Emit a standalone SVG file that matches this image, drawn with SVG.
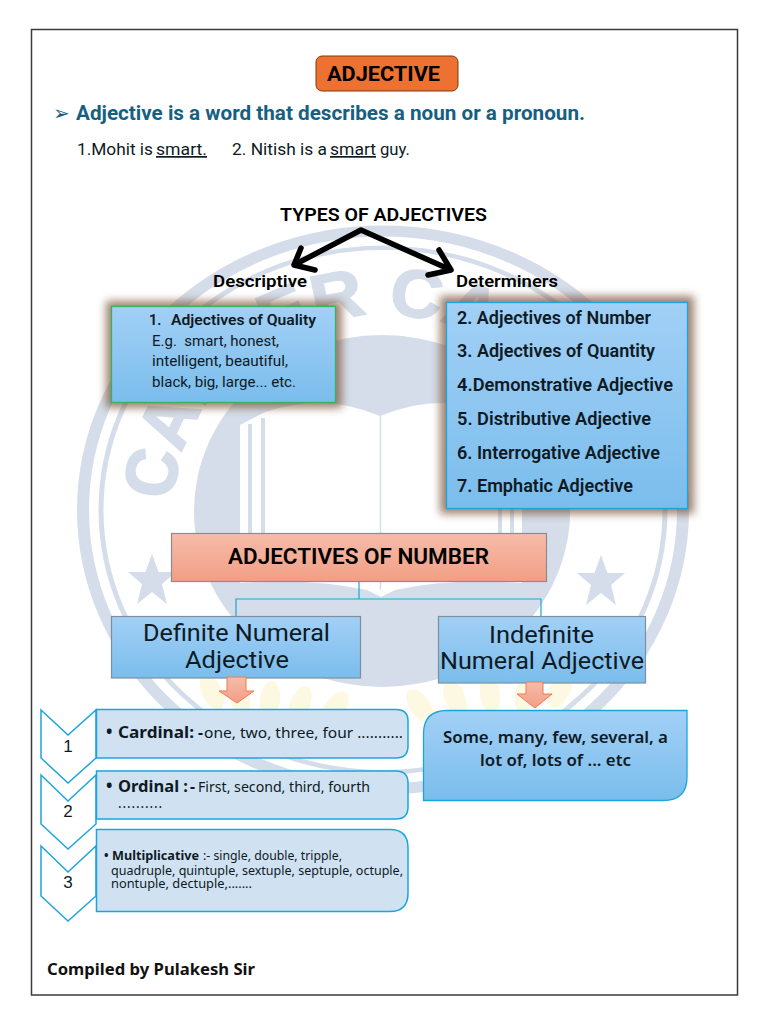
<svg xmlns="http://www.w3.org/2000/svg" width="768" height="1024" viewBox="0 0 768 1024">
<style>
text{font-family:Roboto,"Noto Sans","Liberation Sans",sans-serif;fill:#0e1a24}
.n{font-family:"Noto Sans","Liberation Sans",sans-serif}
.b{font-weight:700}.s{font-weight:600}
.wm{fill:#d4dde9}.ring{fill:none;stroke:#d4dde9}
.leaf{fill:#fdf8e2}
.blue{fill:url(#gb);stroke:#1ba5dc;stroke-width:1.3}
.gblue{fill:url(#gb);stroke:#7d8f9f;stroke-width:1.2}
.pale{fill:#d0e2f2;stroke:#1ba5dc;stroke-width:1.5}
.chev{fill:#fff;stroke:#1ba5dc;stroke-width:1.5;stroke-linejoin:miter}
.conn{fill:none;stroke:#1ba5dc;stroke-width:1.2}
.harrow{fill:none;stroke:#000;stroke-width:5.500;stroke-linecap:round;stroke-linejoin:round}
.barrow{fill:url(#gs);stroke:#ed7d4f;stroke-width:1}
.num{font-family:"Liberation Sans",sans-serif;font-size:17px;text-anchor:middle}
</style>
<defs>
<linearGradient id="gb" x1="0" y1="0" x2="0" y2="1"><stop offset="0" stop-color="#a2d0f6"/><stop offset="1" stop-color="#7abdec"/></linearGradient>
<linearGradient id="gs" x1="0" y1="0" x2="0" y2="1"><stop offset="0" stop-color="#f6bcaa"/><stop offset="1" stop-color="#f29e84"/></linearGradient>
<filter id="glow" x="-15%" y="-15%" width="130%" height="130%"><feGaussianBlur stdDeviation="4"/></filter>
<path id="arc" d="M-210 0A210 210 0 0 1 210 0"/>
<polygon id="star" points="0,-26 6.500,-8 24,-8 10,4 15,24 0,12 -15,24 -10,4 -24,-8 -6.500,-8"/>
<ellipse id="lf" rx="10" ry="19"/>
</defs>
<rect width="768" height="1024" fill="#fff"/>
<rect id="page" x="31.500" y="29.500" width="706" height="965.500" fill="#fff" stroke="#3a3a3a" stroke-width="1.500"/>

<g id="watermark">
<g transform="translate(383 510) scale(1 .93)">
<circle class="ring" r="300" stroke-width="12"/>
<circle class="ring" r="282" stroke-width="5"/>
<text font-size="72" style="font-family:'Liberation Sans',sans-serif;font-weight:700;fill:#d4dde9;stroke:#d4dde9;stroke-width:2;letter-spacing:0"><textPath href="#arc" startOffset="10">CAREER CA</textPath></text>
</g>
<ellipse class="wm" cx="382" cy="511" rx="188" ry="176"/>
<path d="M240 425L265 412Q325 392 380 416Q436 392 497 412L522 425V583Q450 578 395 590L381 597L367 590Q310 578 240 583Z" fill="#fff"/>
<path d="M250 424V575M263 418V575M512 424V575M500 418V575" stroke="#d4dde9" fill="none" stroke-width="4"/>
<path d="M380.500 416V590" stroke="#d4dde9" fill="none" stroke-width="1.500"/>
<use href="#star" x="152" y="580" class="wm"/>
<use href="#star" x="601" y="581" class="wm"/>
<g class="leaf">
<use href="#lf" transform="translate(212 692) rotate(-25)"/>
<use href="#lf" transform="translate(240 698) rotate(-10)"/>
<use href="#lf" transform="translate(270 700) rotate(8)"/>
<use href="#lf" transform="translate(300 704) rotate(22)"/>
<use href="#lf" transform="translate(335 708) rotate(35)"/>
<use href="#lf" transform="translate(420 706) rotate(-35)"/>
<use href="#lf" transform="translate(455 698) rotate(-22)"/>
<use href="#lf" transform="translate(490 694) rotate(-8)"/>
<use href="#lf" transform="translate(525 694) rotate(10)"/>
<use href="#lf" transform="translate(560 690) rotate(28)"/>
</g>
</g>

<g id="connectors">
<path class="harrow" d="M294 265L361 230L451 270M301 248L294 265L315 270M439 250L451 270L428 275"/>
<path class="conn" d="M359 582V599M236 616V599H541V616"/>
</g>

<g id="title">
<rect x="316" y="56" width="142" height="35" rx="6" fill="#ed7130" stroke="#7a3a12" stroke-width="1"/>
<text class="b" x="327" y="81" font-size="21" textLength="113" lengthAdjust="spacingAndGlyphs" style="fill:#000">ADJECTIVE</text>
</g>

<g id="definition">
<text x="53" y="120" font-size="20" style="font-family:'DejaVu Sans',sans-serif;fill:#156082">➢</text>
<text class="b" x="76" y="120" font-size="20" textLength="509" lengthAdjust="spacingAndGlyphs" style="fill:#156082">Adjective is a word that describes a noun or a pronoun.</text>
<text x="77" y="155" font-size="17" textLength="76" lengthAdjust="spacingAndGlyphs">1.Mohit is</text>
<text x="156" y="155" font-size="17" textLength="51" lengthAdjust="spacingAndGlyphs" text-decoration="underline">smart.</text>
<text x="232" y="155" font-size="17" textLength="95" lengthAdjust="spacingAndGlyphs">2. Nitish is a</text>
<text x="330" y="155" font-size="17" textLength="46" lengthAdjust="spacingAndGlyphs" text-decoration="underline">smart</text>
<text x="380" y="155" font-size="17" textLength="30" lengthAdjust="spacingAndGlyphs">guy.</text>
</g>

<g id="types">
<text class="s" x="280" y="221" font-size="18" textLength="207" lengthAdjust="spacingAndGlyphs" style="fill:#000">TYPES OF ADJECTIVES</text>
</g>
<g id="descriptive">
<text class="s" x="213" y="287" font-size="16.500" textLength="94" lengthAdjust="spacingAndGlyphs" style="fill:#000">Descriptive</text>
</g>
<g id="determiners">
<text class="s" x="456" y="287" font-size="16.500" textLength="102" lengthAdjust="spacingAndGlyphs" style="fill:#000">Determiners</text>
</g>

<g id="quality">
<rect x="106" y="301" width="236" height="107" fill="#7a5238" opacity=".72" filter="url(#glow)"/>
<rect x="111.500" y="306.500" width="224" height="96" fill="url(#gb)" stroke="#2fb56a" stroke-width="1.300"/>
<text class="s" x="149" y="325" font-size="14.500">1.</text>
<text class="s" x="171" y="325" font-size="14.500" textLength="145" lengthAdjust="spacingAndGlyphs">Adjectives of Quality</text>
<text x="152" y="346" font-size="14.500" xml:space="preserve" textLength="127" lengthAdjust="spacingAndGlyphs">E.g.  smart, honest,</text>
<text x="152" y="366" font-size="14.500" textLength="136" lengthAdjust="spacingAndGlyphs">intelligent, beautiful,</text>
<text x="152" y="387" font-size="14.500" textLength="144" lengthAdjust="spacingAndGlyphs">black, big, large... etc.</text>
</g>

<g id="determiner-list">
<rect x="440" y="296" width="254" height="218" fill="#7a5238" opacity=".72" filter="url(#glow)"/>
<rect x="446.500" y="302.500" width="241" height="206" class="blue"/>
<text class="s" x="457" y="324" font-size="17.500" textLength="194" lengthAdjust="spacingAndGlyphs">2. Adjectives of Number</text>
<text class="s" x="457" y="357" font-size="17.500" textLength="198" lengthAdjust="spacingAndGlyphs">3. Adjectives of Quantity</text>
<text class="s" x="457" y="391" font-size="17.500" textLength="216" lengthAdjust="spacingAndGlyphs">4.Demonstrative Adjective</text>
<text class="s" x="457" y="425" font-size="17.500" textLength="194" lengthAdjust="spacingAndGlyphs">5. Distributive Adjective</text>
<text class="s" x="457" y="459" font-size="17.500" textLength="203" lengthAdjust="spacingAndGlyphs">6. Interrogative Adjective</text>
<text class="s" x="457" y="492" font-size="17.500" textLength="176" lengthAdjust="spacingAndGlyphs">7. Emphatic Adjective</text>
</g>

<g id="adjectives-of-number">
<rect x="171.500" y="533.500" width="375" height="48" fill="url(#gs)" stroke="#8c8c8c" stroke-width="1.200"/>
<text class="s" x="228" y="564" font-size="21.500" textLength="261" lengthAdjust="spacingAndGlyphs" style="fill:#000">ADJECTIVES OF NUMBER</text>
</g>

<g id="definite">
<rect x="111.500" y="616.500" width="249" height="61.500" class="gblue"/>
<text x="143" y="641" font-size="24" textLength="187" lengthAdjust="spacingAndGlyphs">Definite Numeral</text>
<text x="185" y="668" font-size="24" textLength="104" lengthAdjust="spacingAndGlyphs">Adjective</text>
</g>
<g id="definite-arrow"><polygon class="barrow" points="227,677 246,677 246,691 254,691 237,703 219,691 227,691"/></g>

<g id="indefinite">
<rect x="438.500" y="616.500" width="207" height="66.500" class="gblue"/>
<text x="489" y="643" font-size="24" textLength="105" lengthAdjust="spacingAndGlyphs">Indefinite</text>
<text x="440" y="669" font-size="24" textLength="204" lengthAdjust="spacingAndGlyphs">Numeral Adjective</text>
</g>
<g id="indefinite-arrow"><polygon class="barrow" points="526,682 543,682 543,694 552,694 535,708 517,694 526,694"/></g>

<g id="indefinite-examples">
<path class="blue" d="M447 710.500H687V777Q687 800.500 663 800.500H423.500V734Q423.500 710.500 447 710.500Z"/>
<text class="s n" x="443" y="743" font-size="15.500" textLength="225" lengthAdjust="spacingAndGlyphs">Some, many, few, several, a</text>
<text class="s n" x="480" y="766" font-size="15.500" textLength="151" lengthAdjust="spacingAndGlyphs">lot of, lots of ... etc</text>
</g>

<g id="cardinal">
<polygon class="chev" points="41,710 68,735 96,710 96,758 68,783 41,758"/>
<text class="num" x="68" y="752">1</text>
<path class="pale" d="M96.500 709.500H396Q408 709.500 408 721V746Q408 758 396 758H96.500Z"/>
<text class="b n" x="106" y="738" font-size="17">•</text>
<text class="b n" x="118" y="738" font-size="15.500" textLength="76" lengthAdjust="spacingAndGlyphs">Cardinal:</text>
<text class="b n" x="198" y="738" font-size="15.500">-</text>
<text class="n" x="204" y="738" font-size="13.500" textLength="199" lengthAdjust="spacingAndGlyphs">one, two, three, four ...........</text>
</g>

<g id="ordinal">
<polygon class="chev" points="41,775 68,801 96,775 96,824 68,849 41,824"/>
<text class="num" x="68" y="817">2</text>
<path class="pale" d="M96.500 771H396Q408 771 408 783V807Q408 819 396 819H96.500Z"/>
<text class="b n" x="106" y="792" font-size="17">•</text>
<text class="b n" x="118" y="792" font-size="15.500" textLength="70" lengthAdjust="spacingAndGlyphs">Ordinal :</text>
<text class="b n" x="190" y="792" font-size="15.500">-</text>
<text class="n" x="198" y="792" font-size="13.500" textLength="172" lengthAdjust="spacingAndGlyphs">First, second, third, fourth</text>
<text class="n" x="118" y="808" font-size="13.500" textLength="44" lengthAdjust="spacing">..........</text>
</g>

<g id="multiplicative">
<polygon class="chev" points="41,846 68,872 96,846 96,896 68,921 41,896"/>
<text class="num" x="68" y="888">3</text>
<path class="pale" d="M96.500 829.500H390Q408 829.500 408 848V893Q408 911.500 390 911.500H96.500Z"/>
<text class="b n" x="104" y="860" font-size="12">•</text>
<text class="b n" x="112" y="860" font-size="12" textLength="87" lengthAdjust="spacingAndGlyphs">Multiplicative</text>
<text class="n" x="203" y="860" font-size="12" textLength="139" lengthAdjust="spacingAndGlyphs">:- single, double, tripple,</text>
<text class="n" x="111" y="875" font-size="12" textLength="292" lengthAdjust="spacingAndGlyphs">quadruple, quintuple, sextuple, septuple, octuple,</text>
<text class="n" x="111" y="888" font-size="12" textLength="141" lengthAdjust="spacingAndGlyphs">nontuple, dectuple,.......</text>
</g>

<g id="credit">
<text class="b n" x="47" y="975" font-size="15.500" textLength="208" lengthAdjust="spacingAndGlyphs" style="fill:#111">Compiled by Pulakesh Sir</text>
</g>
</svg>
